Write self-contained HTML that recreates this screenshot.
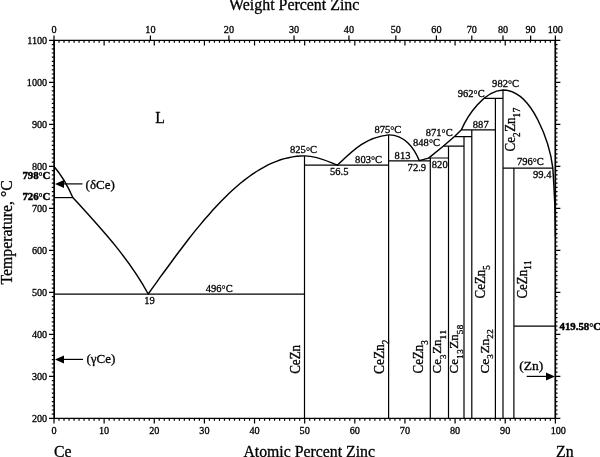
<!DOCTYPE html>
<html lang="en"><head><meta charset="utf-8"><title>Ce-Zn phase diagram</title>
<style>html,body{margin:0;padding:0;background:#fff;}body{width:600px;height:457px;overflow:hidden;}svg{display:block;}text{font-family:"Liberation Serif", "DejaVu Serif", serif;fill:#000;stroke:#000;stroke-width:0.3px;}.t{font-size:10.2px;}.l{font-size:10.5px;}.b{font-size:10.8px;font-weight:bold;stroke-width:0.45px;}.ax{font-size:15.8px;}.ph{font-size:13px;}.sub{font-size:9px;letter-spacing:0.6px;}.dg{font-size:10px;stroke-width:0.25px;}.l{letter-spacing:0.05px;}.ln{stroke:#000;fill:none;stroke-width:1.2;}.fr{stroke:#000;fill:none;stroke-width:1.7;}.cv{stroke:#000;fill:none;stroke-width:1.45;stroke-linejoin:round;}</style></head><body>
<svg width="600" height="457" viewBox="0 0 600 457">
<rect x="0" y="0" width="600" height="457" fill="#fff"/>
<path class="fr" d="M54.15 39.90V418.90M555.30 39.90V418.90"/>
<path class="ln" d="M54.00 40.40H555.35M54.00 418.40H555.35"/>
<path class="ln" d="M54.00 418.40v5M54.00 40.40v5M59.01 418.40v2.4M59.01 40.40v2.4M64.03 418.40v2.4M64.03 40.40v2.4M69.04 418.40v2.4M69.04 40.40v2.4M74.05 418.40v2.4M74.05 40.40v2.4M79.07 418.40v2.4M79.07 40.40v2.4M84.08 418.40v2.4M84.08 40.40v2.4M89.09 418.40v2.4M89.09 40.40v2.4M94.11 418.40v2.4M94.11 40.40v2.4M99.12 418.40v2.4M99.12 40.40v2.4M104.13 418.40v5M104.13 40.40v5M109.15 418.40v2.4M109.15 40.40v2.4M114.16 418.40v2.4M114.16 40.40v2.4M119.18 418.40v2.4M119.18 40.40v2.4M124.19 418.40v2.4M124.19 40.40v2.4M129.20 418.40v2.4M129.20 40.40v2.4M134.22 418.40v2.4M134.22 40.40v2.4M139.23 418.40v2.4M139.23 40.40v2.4M144.24 418.40v2.4M144.24 40.40v2.4M149.26 418.40v2.4M149.26 40.40v2.4M154.27 418.40v5M154.27 40.40v5M159.28 418.40v2.4M159.28 40.40v2.4M164.30 418.40v2.4M164.30 40.40v2.4M169.31 418.40v2.4M169.31 40.40v2.4M174.32 418.40v2.4M174.32 40.40v2.4M179.34 418.40v2.4M179.34 40.40v2.4M184.35 418.40v2.4M184.35 40.40v2.4M189.36 418.40v2.4M189.36 40.40v2.4M194.38 418.40v2.4M194.38 40.40v2.4M199.39 418.40v2.4M199.39 40.40v2.4M204.41 418.40v5M204.41 40.40v5M209.42 418.40v2.4M209.42 40.40v2.4M214.43 418.40v2.4M214.43 40.40v2.4M219.45 418.40v2.4M219.45 40.40v2.4M224.46 418.40v2.4M224.46 40.40v2.4M229.47 418.40v2.4M229.47 40.40v2.4M234.49 418.40v2.4M234.49 40.40v2.4M239.50 418.40v2.4M239.50 40.40v2.4M244.51 418.40v2.4M244.51 40.40v2.4M249.53 418.40v2.4M249.53 40.40v2.4M254.54 418.40v5M254.54 40.40v5M259.55 418.40v2.4M259.55 40.40v2.4M264.57 418.40v2.4M264.57 40.40v2.4M269.58 418.40v2.4M269.58 40.40v2.4M274.59 418.40v2.4M274.59 40.40v2.4M279.61 418.40v2.4M279.61 40.40v2.4M284.62 418.40v2.4M284.62 40.40v2.4M289.63 418.40v2.4M289.63 40.40v2.4M294.65 418.40v2.4M294.65 40.40v2.4M299.66 418.40v2.4M299.66 40.40v2.4M304.67 418.40v5M304.67 40.40v5M309.69 418.40v2.4M309.69 40.40v2.4M314.70 418.40v2.4M314.70 40.40v2.4M319.72 418.40v2.4M319.72 40.40v2.4M324.73 418.40v2.4M324.73 40.40v2.4M329.74 418.40v2.4M329.74 40.40v2.4M334.76 418.40v2.4M334.76 40.40v2.4M339.77 418.40v2.4M339.77 40.40v2.4M344.78 418.40v2.4M344.78 40.40v2.4M349.80 418.40v2.4M349.80 40.40v2.4M354.81 418.40v5M354.81 40.40v5M359.82 418.40v2.4M359.82 40.40v2.4M364.84 418.40v2.4M364.84 40.40v2.4M369.85 418.40v2.4M369.85 40.40v2.4M374.86 418.40v2.4M374.86 40.40v2.4M379.88 418.40v2.4M379.88 40.40v2.4M384.89 418.40v2.4M384.89 40.40v2.4M389.90 418.40v2.4M389.90 40.40v2.4M394.92 418.40v2.4M394.92 40.40v2.4M399.93 418.40v2.4M399.93 40.40v2.4M404.94 418.40v5M404.94 40.40v5M409.96 418.40v2.4M409.96 40.40v2.4M414.97 418.40v2.4M414.97 40.40v2.4M419.99 418.40v2.4M419.99 40.40v2.4M425.00 418.40v2.4M425.00 40.40v2.4M430.01 418.40v2.4M430.01 40.40v2.4M435.03 418.40v2.4M435.03 40.40v2.4M440.04 418.40v2.4M440.04 40.40v2.4M445.05 418.40v2.4M445.05 40.40v2.4M450.07 418.40v2.4M450.07 40.40v2.4M455.08 418.40v5M455.08 40.40v5M460.09 418.40v2.4M460.09 40.40v2.4M465.11 418.40v2.4M465.11 40.40v2.4M470.12 418.40v2.4M470.12 40.40v2.4M475.13 418.40v2.4M475.13 40.40v2.4M480.15 418.40v2.4M480.15 40.40v2.4M485.16 418.40v2.4M485.16 40.40v2.4M490.17 418.40v2.4M490.17 40.40v2.4M495.19 418.40v2.4M495.19 40.40v2.4M500.20 418.40v2.4M500.20 40.40v2.4M505.21 418.40v5M505.21 40.40v5M510.23 418.40v2.4M510.23 40.40v2.4M515.24 418.40v2.4M515.24 40.40v2.4M520.26 418.40v2.4M520.26 40.40v2.4M525.27 418.40v2.4M525.27 40.40v2.4M530.28 418.40v2.4M530.28 40.40v2.4M535.30 418.40v2.4M535.30 40.40v2.4M540.31 418.40v2.4M540.31 40.40v2.4M545.32 418.40v2.4M545.32 40.40v2.4M550.34 418.40v2.4M550.34 40.40v2.4M555.35 418.40v5M555.35 40.40v5M150.42 40.40v-5M228.90 40.40v-5M294.02 40.40v-5M348.93 40.40v-5M395.84 40.40v-5M436.40 40.40v-5M471.80 40.40v-5M502.98 40.40v-5M530.64 40.40v-5M54.00 40.40v-5M555.35 40.40v-5M54.00 418.40h-5M555.35 418.40h5M54.00 414.20h-2.2M555.35 414.20h2.2M54.00 410.00h-2.2M555.35 410.00h2.2M54.00 405.80h-2.2M555.35 405.80h2.2M54.00 401.60h-2.2M555.35 401.60h2.2M54.00 397.40h-2.2M555.35 397.40h2.2M54.00 393.20h-2.2M555.35 393.20h2.2M54.00 389.00h-2.2M555.35 389.00h2.2M54.00 384.80h-2.2M555.35 384.80h2.2M54.00 380.60h-2.2M555.35 380.60h2.2M54.00 376.40h-5M555.35 376.40h5M54.00 372.20h-2.2M555.35 372.20h2.2M54.00 368.00h-2.2M555.35 368.00h2.2M54.00 363.80h-2.2M555.35 363.80h2.2M54.00 359.60h-2.2M555.35 359.60h2.2M54.00 355.40h-2.2M555.35 355.40h2.2M54.00 351.20h-2.2M555.35 351.20h2.2M54.00 347.00h-2.2M555.35 347.00h2.2M54.00 342.80h-2.2M555.35 342.80h2.2M54.00 338.60h-2.2M555.35 338.60h2.2M54.00 334.40h-5M555.35 334.40h5M54.00 330.20h-2.2M555.35 330.20h2.2M54.00 326.00h-2.2M555.35 326.00h2.2M54.00 321.80h-2.2M555.35 321.80h2.2M54.00 317.60h-2.2M555.35 317.60h2.2M54.00 313.40h-2.2M555.35 313.40h2.2M54.00 309.20h-2.2M555.35 309.20h2.2M54.00 305.00h-2.2M555.35 305.00h2.2M54.00 300.80h-2.2M555.35 300.80h2.2M54.00 296.60h-2.2M555.35 296.60h2.2M54.00 292.40h-5M555.35 292.40h5M54.00 288.20h-2.2M555.35 288.20h2.2M54.00 284.00h-2.2M555.35 284.00h2.2M54.00 279.80h-2.2M555.35 279.80h2.2M54.00 275.60h-2.2M555.35 275.60h2.2M54.00 271.40h-2.2M555.35 271.40h2.2M54.00 267.20h-2.2M555.35 267.20h2.2M54.00 263.00h-2.2M555.35 263.00h2.2M54.00 258.80h-2.2M555.35 258.80h2.2M54.00 254.60h-2.2M555.35 254.60h2.2M54.00 250.40h-5M555.35 250.40h5M54.00 246.20h-2.2M555.35 246.20h2.2M54.00 242.00h-2.2M555.35 242.00h2.2M54.00 237.80h-2.2M555.35 237.80h2.2M54.00 233.60h-2.2M555.35 233.60h2.2M54.00 229.40h-2.2M555.35 229.40h2.2M54.00 225.20h-2.2M555.35 225.20h2.2M54.00 221.00h-2.2M555.35 221.00h2.2M54.00 216.80h-2.2M555.35 216.80h2.2M54.00 212.60h-2.2M555.35 212.60h2.2M54.00 208.40h-5M555.35 208.40h5M54.00 204.20h-2.2M555.35 204.20h2.2M54.00 200.00h-2.2M555.35 200.00h2.2M54.00 195.80h-2.2M555.35 195.80h2.2M54.00 191.60h-2.2M555.35 191.60h2.2M54.00 187.40h-2.2M555.35 187.40h2.2M54.00 183.20h-2.2M555.35 183.20h2.2M54.00 179.00h-2.2M555.35 179.00h2.2M54.00 174.80h-2.2M555.35 174.80h2.2M54.00 170.60h-2.2M555.35 170.60h2.2M54.00 166.40h-5M555.35 166.40h5M54.00 162.20h-2.2M555.35 162.20h2.2M54.00 158.00h-2.2M555.35 158.00h2.2M54.00 153.80h-2.2M555.35 153.80h2.2M54.00 149.60h-2.2M555.35 149.60h2.2M54.00 145.40h-2.2M555.35 145.40h2.2M54.00 141.20h-2.2M555.35 141.20h2.2M54.00 137.00h-2.2M555.35 137.00h2.2M54.00 132.80h-2.2M555.35 132.80h2.2M54.00 128.60h-2.2M555.35 128.60h2.2M54.00 124.40h-5M555.35 124.40h5M54.00 120.20h-2.2M555.35 120.20h2.2M54.00 116.00h-2.2M555.35 116.00h2.2M54.00 111.80h-2.2M555.35 111.80h2.2M54.00 107.60h-2.2M555.35 107.60h2.2M54.00 103.40h-2.2M555.35 103.40h2.2M54.00 99.20h-2.2M555.35 99.20h2.2M54.00 95.00h-2.2M555.35 95.00h2.2M54.00 90.80h-2.2M555.35 90.80h2.2M54.00 86.60h-2.2M555.35 86.60h2.2M54.00 82.40h-5M555.35 82.40h5M54.00 78.20h-2.2M555.35 78.20h2.2M54.00 74.00h-2.2M555.35 74.00h2.2M54.00 69.80h-2.2M555.35 69.80h2.2M54.00 65.60h-2.2M555.35 65.60h2.2M54.00 61.40h-2.2M555.35 61.40h2.2M54.00 57.20h-2.2M555.35 57.20h2.2M54.00 53.00h-2.2M555.35 53.00h2.2M54.00 48.80h-2.2M555.35 48.80h2.2M54.00 44.60h-2.2M555.35 44.60h2.2M54.00 40.40h-5M555.35 40.40h5"/>
<text class="t" x="54.0" y="433.8" text-anchor="middle">0</text>
<text class="t" x="104.1" y="433.8" text-anchor="middle">10</text>
<text class="t" x="154.3" y="433.8" text-anchor="middle">20</text>
<text class="t" x="204.4" y="433.8" text-anchor="middle">30</text>
<text class="t" x="254.5" y="433.8" text-anchor="middle">40</text>
<text class="t" x="304.7" y="433.8" text-anchor="middle">50</text>
<text class="t" x="354.8" y="433.8" text-anchor="middle">60</text>
<text class="t" x="404.9" y="433.8" text-anchor="middle">70</text>
<text class="t" x="455.1" y="433.8" text-anchor="middle">80</text>
<text class="t" x="505.2" y="433.8" text-anchor="middle">90</text>
<text class="t" x="558.3" y="433.8" text-anchor="middle">100</text>
<text class="t" x="54.0" y="33.2" text-anchor="middle">0</text>
<text class="t" x="150.4" y="33.2" text-anchor="middle">10</text>
<text class="t" x="228.9" y="33.2" text-anchor="middle">20</text>
<text class="t" x="294.0" y="33.2" text-anchor="middle">30</text>
<text class="t" x="348.9" y="33.2" text-anchor="middle">40</text>
<text class="t" x="395.8" y="33.2" text-anchor="middle">50</text>
<text class="t" x="436.4" y="33.2" text-anchor="middle">60</text>
<text class="t" x="471.8" y="33.2" text-anchor="middle">70</text>
<text class="t" x="503.0" y="33.2" text-anchor="middle">80</text>
<text class="t" x="530.6" y="33.2" text-anchor="middle">90</text>
<text class="t" x="555.3" y="33.2" text-anchor="middle">100</text>
<text class="t" x="47.2" y="421.6" text-anchor="end">200</text>
<text class="t" x="47.2" y="379.6" text-anchor="end">300</text>
<text class="t" x="47.2" y="337.6" text-anchor="end">400</text>
<text class="t" x="47.2" y="295.6" text-anchor="end">500</text>
<text class="t" x="47.2" y="253.6" text-anchor="end">600</text>
<text class="t" x="47.2" y="211.6" text-anchor="end">700</text>
<text class="t" x="47.2" y="169.6" text-anchor="end">800</text>
<text class="t" x="47.2" y="127.6" text-anchor="end">900</text>
<text class="t" x="47.2" y="85.6" text-anchor="end">1000</text>
<text class="t" x="47.2" y="43.6" text-anchor="end">1100</text>
<text class="ax" style="font-size:15.9px" x="294.2" y="10.2" text-anchor="middle">Weight Percent Zinc</text>
<text class="ax" x="309.2" y="456.7" text-anchor="middle">Atomic Percent Zinc</text>
<text class="ax" x="54" y="456.7">Ce</text>
<text class="ax" x="556" y="456.7">Zn</text>
<text class="ax" transform="translate(11.6 232.3) rotate(-90)" text-anchor="middle">Temperature, °C</text>
<text class="ax" x="155.3" y="122.8">L</text>
<path class="cv" d="M54.2 166.8Q64.3 178.2 72.8 197.5C100.4 227.8 128.8 258 148.2 294L152.2 288.4L156.2 282.8L160.2 277.2L164.2 271.7L168.3 266.2L172.3 260.7L176.3 255.3L180.3 250.0L184.3 244.7L188.3 239.5L192.3 234.4L196.3 229.4L200.3 224.6L204.3 219.8L208.4 215.2L212.4 210.6L216.4 206.3L220.4 202.0L224.4 198.0L228.4 194.0L232.4 190.3L236.4 186.7L240.4 183.3L244.4 180.1L248.5 177.0L252.5 174.2L256.5 171.5L260.5 169.1L264.5 166.8L268.5 164.7L272.5 162.9L276.5 161.3L280.5 159.8L284.5 158.6L288.6 157.7L292.6 156.9L296.6 156.3L300.6 156.0L304.6 155.9C316.1 155.7 326.9 161 337.4 165.1C353.6 149.8 365.2 137.6 388.6 134.9C403.9 134.6 414.1 147.7 419.2 160.6L428.6 158.1L443.2 146.2L454.8 136.2L461.4 129.8C467.6 115 484.2 90.8 502.9 90C532.9 90 549.9 144.7 552.8 167.8C553.5 178 554.3 192 554.9 206L555.5 236"/>
<path class="ln" d="M72.8 197.6H54"/>
<path class="ln" d="M54.0 294.1H304.5M304.5 165.1H388.6M388.6 160.9H430.3M428.6 158.0H448.5M443.2 146.2H464.0M454.8 136.6H471.8M461.4 129.9H495.4M484.7 98.4H503.0M503.0 168.1H552.8M513.9 326.2H555.3M304.5 418.4V155.9M388.6 418.4V134.9M430.3 418.4V158.0M448.5 418.4V146.2M464.0 418.4V136.6M471.8 418.4V129.9M495.4 418.4V98.4M503.0 418.4V90.0M513.9 418.4V168.1"/>
<path class="ln" d="M61.0 183.9H82.5"/><path d="M55.0 183.9l9 -4v8z" fill="#000"/>
<path class="ln" d="M61.0 359.4H83.0"/><path d="M55.0 359.4l9 -4v8z" fill="#000"/>
<path class="ln" d="M526.7 376.4H549.0"/><path d="M555.0 376.4l-9 -4v8z" fill="#000"/>
<text class="ph" x="85.6" y="188.9">(δCe)</text>
<text class="ph" x="86.4" y="362.6">(γCe)</text>
<text class="ph" style="font-size:13.5px" x="519.3" y="370">(Zn)</text>
<text class="b" x="50.4" y="179" text-anchor="end">798<tspan class="dg" dy="1.1">°</tspan><tspan dy="-1.1">C</tspan></text>
<text class="b" x="50.4" y="200.2" text-anchor="end">726<tspan class="dg" dy="1.1">°</tspan><tspan dy="-1.1">C</tspan></text>
<text class="b" x="559.5" y="330.2">419.58<tspan class="dg" dy="1.1">°</tspan><tspan dy="-1.1">C</tspan></text>
<text class="l" x="205.7" y="292">496<tspan class="dg" dy="1.1">°</tspan><tspan dy="-1.1">C</tspan></text>
<text class="l" x="290.0" y="153.4">825<tspan class="dg" dy="1.1">°</tspan><tspan dy="-1.1">C</tspan></text>
<text class="l" x="374.4" y="132.6">875<tspan class="dg" dy="1.1">°</tspan><tspan dy="-1.1">C</tspan></text>
<text class="l" x="355.1" y="162.6">803<tspan class="dg" dy="1.1">°</tspan><tspan dy="-1.1">C</tspan></text>
<text class="l" x="394.6" y="159.3">813</text>
<text class="l" x="330" y="175.3">56.5</text>
<text class="l" x="407.6" y="171.1">72.9</text>
<text class="l" x="431.8" y="168.4">820</text>
<text class="l" x="413" y="146.1">848<tspan class="dg" dy="1.1">°</tspan><tspan dy="-1.1">C</tspan></text>
<text class="l" x="425.7" y="135.7">871<tspan class="dg" dy="1.1">°</tspan><tspan dy="-1.1">C</tspan></text>
<text class="l" x="472.8" y="127.6">887</text>
<text class="l" x="457.7" y="96.5">962<tspan class="dg" dy="1.1">°</tspan><tspan dy="-1.1">C</tspan></text>
<text class="l" x="492.1" y="87.3">982<tspan class="dg" dy="1.1">°</tspan><tspan dy="-1.1">C</tspan></text>
<text class="l" x="516.9" y="165">796<tspan class="dg" dy="1.1">°</tspan><tspan dy="-1.1">C</tspan></text>
<text class="l" x="533" y="178.2">99.4</text>
<text class="l" x="144.2" y="304.2">19</text>
<text class="ph" style="font-size:13.0px" transform="translate(300.2 373.8) rotate(-90) scale(1 1.18)"><tspan dy="0">CeZn</tspan></text>
<text class="ph" style="font-size:13.4px" transform="translate(383.9 374.0) rotate(-90) scale(1 1.12)"><tspan dy="0">CeZn</tspan><tspan class="sub" dy="4.11">2</tspan></text>
<text class="ph" style="font-size:13.0px" transform="translate(423.2 373.5) rotate(-90) scale(1 1.04)"><tspan dy="0">CeZn</tspan><tspan class="sub" dy="4.42">3</tspan></text>
<text class="ph" style="font-size:13.0px" transform="translate(441.2 373.4) rotate(-90)"><tspan dy="0">Ce</tspan><tspan class="sub" dy="4.6">3</tspan><tspan dy="-4.6">Zn</tspan><tspan class="sub" dy="4.6">11</tspan></text>
<text class="ph" style="font-size:13.0px" transform="translate(458.3 373.4) rotate(-90)"><tspan dy="0">Ce</tspan><tspan class="sub" dy="4.6">13</tspan><tspan dy="-4.6">Zn</tspan><tspan class="sub" dy="4.6">58</tspan></text>
<text class="ph" style="font-size:13.4px" transform="translate(488.5 373.6) rotate(-90)"><tspan dy="0">Ce</tspan><tspan class="sub" dy="4.6">3</tspan><tspan dy="-4.6">Zn</tspan><tspan class="sub" dy="4.6">22</tspan></text>
<text class="ph" style="font-size:13.0px" transform="translate(485.3 298.5) rotate(-90) scale(1 1.05)"><tspan dy="0">CeZn</tspan><tspan class="sub" dy="4.38">5</tspan></text>
<text class="ph" style="font-size:13.0px" transform="translate(526.5 298.6) rotate(-90) scale(1 1.15)"><tspan dy="0">CeZn</tspan><tspan class="sub" dy="4.0">11</tspan></text>
<text class="ph" style="font-size:13.0px" transform="translate(515.0 151.4) rotate(-90) scale(1 1.08)"><tspan dy="0">Ce</tspan><tspan class="sub" dy="4.26">2</tspan><tspan dy="-4.26">Zn</tspan><tspan class="sub" dy="4.26">17</tspan></text>
</svg></body></html>
